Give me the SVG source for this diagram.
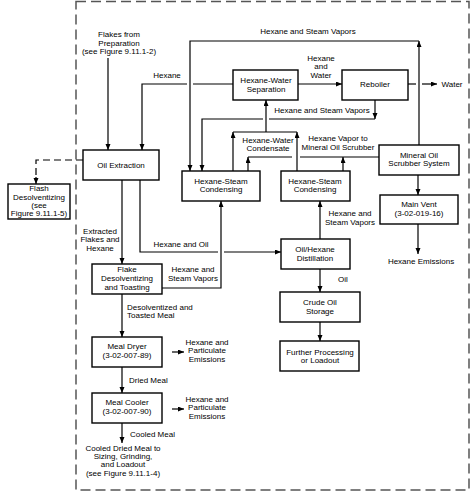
<svg xmlns="http://www.w3.org/2000/svg" width="474" height="494" viewBox="0 0 474 494">
<defs>
<marker id="ah" markerUnits="userSpaceOnUse" markerWidth="7" markerHeight="6" refX="6" refY="2.5" orient="auto">
<path d="M0,0 L6,2.5 L0,5 z" fill="#000"/>
</marker>
<style>
.b{fill:#fff;stroke:#000;stroke-width:1.4}
.c{fill:none;stroke:#000;stroke-width:1.2}
.a{marker-end:url(#ah)}
.d{fill:none;stroke:#000;stroke-width:1.2;stroke-dasharray:7,4}
text{font-family:"Liberation Sans",Arial,sans-serif;font-size:8px;fill:#000;text-anchor:middle}
.l{text-anchor:start}
</style>
</defs>
<rect width="474" height="494" fill="#fff"/>
<rect x="76" y="1.5" width="393" height="488.5" fill="none" stroke="#555" stroke-width="1.5" stroke-dasharray="10,5"/>

<g id="connectors">
<path class="c a" d="M108,58 V150"/>
<path class="c" d="M233,84 H193"/>
<path class="c a" d="M187,84 H142 V150"/>
<path class="c a" d="M419,145 V41"/>
<path class="c a" d="M419,41 H190 V171"/>
<path class="c a" d="M298,84 H342"/>
<path class="c" d="M408,84 H416"/>
<path class="c a" d="M422,84 H437"/>
<path class="c a" d="M375,100 V119"/>
<path class="c" d="M375,119 H269"/>
<path class="c a" d="M263,119 H202 V171"/>
<path class="c a" d="M233,171 V132"/>
<path class="c a" d="M297,171 V132"/>
<path class="c" d="M233,132 H297"/>
<path class="c a" d="M266,132 V100"/>
<path class="c a" d="M248,171 V157"/>
<path class="c a" d="M343,171 V157"/>
<path class="c" d="M248,157 H292"/>
<path class="c" d="M300,157 H379"/>
<path class="c a" d="M122,180 V264"/>
<path class="c" d="M140,180 V252 H218"/>
<path class="c a" d="M224,252 H281"/>
<path class="c a" d="M162,288 H221 V201"/>
<path class="c a" d="M122,294 V337"/>
<path class="c a" d="M172,352 H184"/>
<path class="c a" d="M122,367 V393"/>
<path class="c a" d="M172,409 H184"/>
<path class="c a" d="M122,423 V443"/>
<path class="c a" d="M418,175 V195"/>
<path class="c a" d="M418,224 V254"/>
<path class="c a" d="M320,239 V201"/>
<path class="c a" d="M320,269 V292"/>
<path class="c a" d="M320,322 V341"/>
<path class="d" d="M83,160 H36 V178"/>
<path class="c a" d="M36,177 V184"/>
</g>

<g id="labels">
<text x="119" y="37">Flakes from</text>
<text x="119" y="46">Preparation</text>
<text x="119" y="54">(see Figure 9.11.1-2)</text>
<text x="167" y="78">Hexane</text>
<text x="308" y="34">Hexane and Steam Vapors</text>
<text x="321" y="61">Hexane</text>
<text x="321" y="69">and</text>
<text x="321" y="78">Water</text>
<text x="452" y="87">Water</text>
<text x="322" y="113">Hexane and Steam Vapors</text>
<text x="268" y="143">Hexane-Water</text>
<text x="268" y="151">Condensate</text>
<text x="338" y="141">Hexane Vapor to</text>
<text x="338" y="150">Mineral Oil Scrubber</text>
<text x="100" y="234">Extracted</text>
<text x="100" y="242">Flakes and</text>
<text x="100" y="251">Hexane</text>
<text x="181" y="247">Hexane and Oil</text>
<text x="193" y="272">Hexane and</text>
<text x="193" y="281">Steam Vapors</text>
<text x="350" y="216">Hexane and</text>
<text x="350" y="225">Steam Vapors</text>
<text x="421" y="264">Hexane Emissions</text>
<text x="343" y="282">Oil</text>
<text class="l" x="127" y="310">Desolventized and</text>
<text class="l" x="127" y="318">Toasted Meal</text>
<text x="207" y="345">Hexane and</text>
<text x="207" y="353">Particulate</text>
<text x="207" y="362">Emissions</text>
<text class="l" x="129" y="383">Dried Meal</text>
<text x="207" y="402">Hexane and</text>
<text x="207" y="410">Particulate</text>
<text x="207" y="419">Emissions</text>
<text class="l" x="130" y="437">Cooled Meal</text>
<text x="123" y="451">Cooled Dried Meal to</text>
<text x="123" y="459">Sizing, Grinding,</text>
<text x="123" y="467">and Loadout</text>
<text x="123" y="476">(see Figure 9.11.1-4)</text>
</g>

<g id="oil-extraction"><rect class="b" x="83" y="150" width="76" height="30"/><text x="121" y="168">Oil Extraction</text></g>
<g id="hexane-water-separation"><rect class="b" x="233" y="70" width="65" height="30"/><text x="266" y="83">Hexane-Water</text><text x="266" y="92">Separation</text></g>
<g id="reboiler"><rect class="b" x="342" y="70" width="66" height="30"/><text x="375" y="87">Reboiler</text></g>
<g id="hexane-steam-condensing-1"><rect class="b" x="182" y="171" width="78" height="30"/><text x="221" y="184">Hexane-Steam</text><text x="221" y="192">Condensing</text></g>
<g id="hexane-steam-condensing-2"><rect class="b" x="281" y="171" width="69" height="30"/><text x="315" y="184">Hexane-Steam</text><text x="315" y="192">Condensing</text></g>
<g id="mineral-oil-scrubber"><rect class="b" x="379" y="145" width="80" height="30"/><text x="419" y="158">Mineral Oil</text><text x="419" y="166">Scrubber System</text></g>
<g id="main-vent"><rect class="b" x="380" y="195" width="78" height="29"/><text x="419" y="207">Main Vent</text><text x="419" y="216">(3-02-019-16)</text></g>
<g id="flash-desolventizing"><rect class="b" x="8" y="184" width="62" height="35" stroke-width="2"/><text x="39" y="191">Flash</text><text x="39" y="200">Desolventizing</text><text x="39" y="208">(see</text><text x="39" y="216">Figure 9.11.1-5)</text></g>
<g id="oil-hexane-distillation"><rect class="b" x="281" y="239" width="69" height="30"/><text x="315" y="252">Oil/Hexane</text><text x="315" y="261">Distillation</text></g>
<g id="crude-oil-storage"><rect class="b" x="280" y="292" width="80" height="30"/><text x="320" y="305">Crude Oil</text><text x="320" y="314">Storage</text></g>
<g id="further-processing"><rect class="b" x="280" y="341" width="79" height="30"/><text x="320" y="355">Further Processing</text><text x="320" y="363">or Loadout</text></g>
<g id="flake-desolventizing"><rect class="b" x="92" y="264" width="70" height="30"/><text x="127" y="272">Flake</text><text x="127" y="281">Desolventizing</text><text x="127" y="290">and Toasting</text></g>
<g id="meal-dryer"><rect class="b" x="92" y="337" width="70" height="30"/><text x="127" y="349">Meal Dryer</text><text x="127" y="358">(3-02-007-89)</text></g>
<g id="meal-cooler"><rect class="b" x="92" y="393" width="70" height="30"/><text x="127" y="405">Meal Cooler</text><text x="127" y="414">(3-02-007-90)</text></g>
</svg>
